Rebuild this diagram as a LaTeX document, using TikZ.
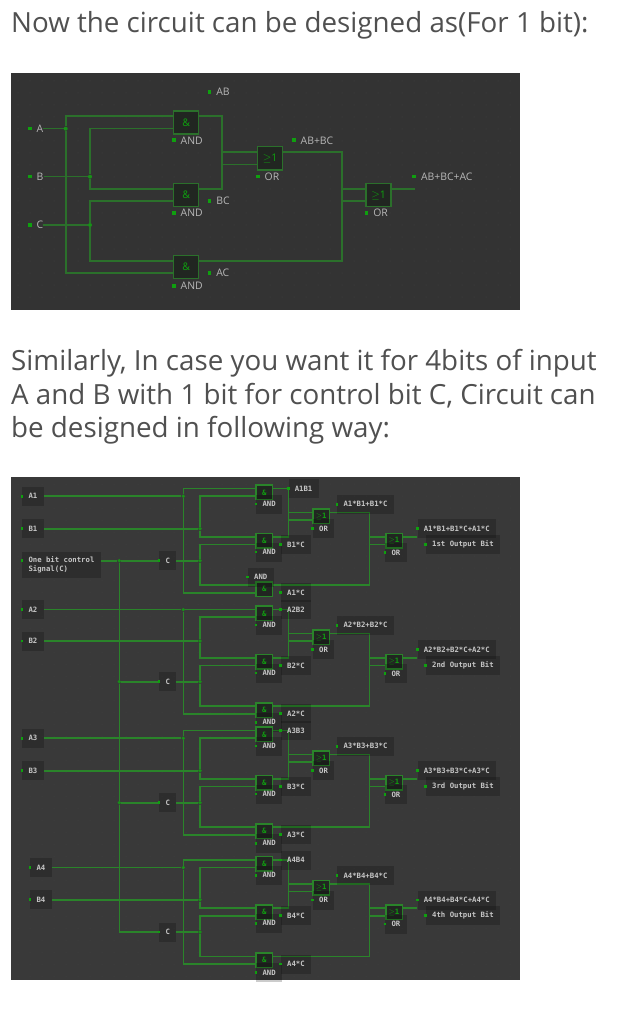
\documentclass[tikz,border=0pt]{standalone}
\usepackage{fontspec}
\setmainfont{Open Sans}
\setsansfont{Open Sans}
\setmonofont{DejaVu Sans Mono}
\usetikzlibrary{backgrounds}

\definecolor{headtext}{HTML}{505050}
\definecolor{paneltop}{HTML}{333333}
\definecolor{panelbit}{HTML}{393939}
\definecolor{griddot}{HTML}{424242}
\definecolor{wiretop}{HTML}{2B702B}
\definecolor{wirebit}{HTML}{2A842A}
\definecolor{gatefill}{HTML}{212621}
\definecolor{lit}{HTML}{0FA00F}

\tikzset{
	headline/.style={anchor=base west, inner sep=0pt, text=headtext, font=\fontsize{27.75}{30}\selectfont},
	wire/.style={draw=wiretop, line width=1.6pt},
	wirebitx/.style={draw=wirebit, line width=1.6pt},
	junc/.style={circle, fill=lit!70!wiretop, inner sep=0pt, minimum size=4pt},
	gatetop/.style={draw=wiretop, line width=1.5pt, fill=gatefill, inner sep=0pt, minimum width=25pt, minimum height=23.3pt, text=lit, font=\sffamily\fontsize{10.5}{12}\selectfont},
	gatebit/.style={draw=wirebit, line width=1.5pt, fill=gatefill, inner sep=0pt, minimum width=16.5pt, minimum height=14.5pt, text=lit, font=\ttfamily\bfseries\fontsize{7.3}{9}\selectfont},
	lbtop/.style={inner sep=0pt, xshift=6.8pt, text=black!28, font=\sffamily\fontsize{10.4}{12}\selectfont},
	lbtopdot/.style={fill=lit, inner sep=0pt, minimum size=3.6pt},
	lbbit/.style={fill=black, fill opacity=0.2, text opacity=1, inner xsep=6.3pt, inner ysep=0pt, minimum height=19pt, text=black!22, font=\ttfamily\bfseries\fontsize{7.3}{9.5}\selectfont},
	lbbitdot/.style={fill=lit, inner sep=0pt, minimum size=2.6pt}
}

\newcommand{\portlab}[5]{
	\node[#1, anchor=west] (#2) at (#3,#4) {#5};
	\node[#1dot] (#2d) at (#3,#4) {};
}

\begin{document}
\begin{tikzpicture}[x=1pt, y=-1pt]
	\useasboundingbox (0,0) rectangle (633,1024);
	\begin{pgfonlayer}{background}
		\fill [white] (0,0) rectangle (633,1024);
		\fill [paneltop] (11,73) rectangle (520,310);
		\fill [panelbit] (11,477) rectangle (520,980);
		\foreach \x in {18,30,...,514} {
			\foreach \y in {81,93,...,305}
				\fill [griddot] (\x,\y) circle (0.5pt);
			\foreach \y in {484,496,...,976}
				\fill [griddot] (\x,\y) circle (0.5pt);
		}
	\end{pgfonlayer}

	\node[headline] (head1) at (11,33) {Now the circuit can be designed as(For 1 bit):};
	\node[headline] (head2) at (11,370) {Similarly, In case you want it for 4bits of input};
	\node[headline] (head3) at (11,404) {A and B with 1 bit for control bit C, Circuit can};
	\node[headline] (head4) at (11,437) {be designed in following way:};

	% 1 bit circuit
	\portlab{lbtop}{A}{29.7}{128.7}{A}
	\portlab{lbtop}{B}{29.7}{176.7}{B}
	\portlab{lbtop}{C}{29.7}{225}{C}
	\node[gatetop] (and1) at (186.2,122.5) {\&};
	\node[gatetop] (and2) at (186.2,195) {\&};
	\node[gatetop] (and3) at (186.2,267) {\&};
	\node[gatetop] (or1) at (270.2,158.4) {$\geq$1};
	\node[gatetop] (or2) at (378.6,195) {$\geq$1};
	\portlab{lbtop}{lab}{209.3}{92}{AB}
	\portlab{lbtop}{lbc}{209.3}{201}{BC}
	\portlab{lbtop}{lac}{209.3}{273}{AC}
	\portlab{lbtop}{land1}{173.7}{140.3}{AND}
	\portlab{lbtop}{land2}{173.7}{213}{AND}
	\portlab{lbtop}{land3}{173.7}{285.7}{AND}
	\portlab{lbtop}{lor1}{257.7}{176.7}{OR}
	\portlab{lbtop}{lor2}{366.3}{213}{OR}
	\portlab{lbtop}{labbc}{293.7}{140.3}{AB+BC}
	\portlab{lbtop}{lsum}{414}{176.7}{AB+BC+AC}
	\node[junc] (ja) at (65.7,128.7) {};
	\node[junc] (jb) at (90,176.7) {};
	\node[junc] (jc) at (90,225) {};
	\coordinate (m1) at (222,135);
	\coordinate (m2) at (342,180);
	\coordinate (sumend) at (415,188.8);
	\begin{pgfonlayer}{background}
		\draw[wire] (A.east) -- (ja);
		\draw[wire] (B.east) -- (jb);
		\draw[wire] (C.east) -- (jc);
		\draw[wire] ([yshift=6.2pt]and1.west) -| (ja) |- ([yshift=-6.2pt]and3.west);
		\draw[wire] ([yshift=-6.2pt]and1.west) -| (jb) |- ([yshift=6.2pt]and2.west);
		\draw[wire] ([yshift=-6.2pt]and2.west) -| (jc) |- ([yshift=6.2pt]and3.west);
		\draw[wire] ([yshift=6.2pt]and1.east) -| (m1) |- ([yshift=6.2pt]or1.west);
		\draw[wire] ([yshift=6.2pt]and2.east) -| (m1) |- ([yshift=-6.2pt]or1.west);
		\draw[wire] ([yshift=6.2pt]or1.east) -| (m2) |- ([yshift=6.2pt]or2.west);
		\draw[wire] ([yshift=6.2pt]and3.east) -| (m2) |- ([yshift=-6.2pt]or2.west);
		\draw[wire] ([yshift=6.2pt]or2.east) -- (sumend);
	\end{pgfonlayer}

	% 4 bit circuit
	\node[lbbit, anchor=west, align=left, minimum height=26pt] (ctrl) at (22,564.9) {One bit control\\Signal(C)};
	\node[lbbitdot] (ctrld) at (22,560.7) {};
	\node[junc, minimum size=3.6pt] (jm1) at (119.3,560.7) {};
	\node[junc, minimum size=3.6pt] (jm2) at (119.3,681.7) {};
	\node[junc, minimum size=3.6pt] (jm3) at (119.3,802.7) {};
	\coordinate (jm4) at (119.3,932);
	\begin{pgfonlayer}{background}
		\draw[wirebitx] (ctrl.east |- jm1) -- (jm1) -- (jm2) -- (jm3) -- (jm4);
	\end{pgfonlayer}

	\foreach \n/\off/\xl/\ya/\yb/\xab/\xc/\yc/\th in {
		1/0/22/496.2/528.7/288.3/247.7/577/1st,
		2/121/22/609.6/641/280.7/256/722.3/2nd,
		3/242/22/738.2/770.7/280.7/256/843.3/3rd,
		4/371.3/30/867.5/899.7/280.7/256/972.6/4th} {
		\portlab{lbbit}{la\n}{\xl}{\ya}{A\n}
		\portlab{lbbit}{lb\n}{\xl}{\yb}{B\n}
		\portlab{lbbit}{lc\n}{159}{560.7+\off}{C}
		\node[gatebit] (a\n) at (264.3,492.4+\off) {\&};
		\node[gatebit] (b\n) at (264.3,540.7+\off) {\&};
		\node[gatebit] (c\n) at (264.3,589+\off) {\&};
		\node[gatebit] (p\n) at (321.3,516.4+\off) {$\geq$1};
		\node[gatebit] (q\n) at (394,540.7+\off) {$\geq$1};
		\portlab{lbbit}{ta\n}{256}{504+\off}{AND}
		\portlab{lbbit}{tb\n}{256}{552+\off}{AND}
		\portlab{lbbit}{tc\n}{\xc}{\yc}{AND}
		\portlab{lbbit}{tp\n}{312.7}{528.7+\off}{OR}
		\portlab{lbbit}{tq\n}{385}{552.7+\off}{OR}
		\portlab{lbbit}{ab\n}{\xab}{488.7+\off}{A\n B\n}
		\portlab{lbbit}{bc\n}{280.7}{544.4+\off}{B\n*C}
		\portlab{lbbit}{ac\n}{280.7}{592.7+\off}{A\n*C}
		\portlab{lbbit}{abc\n}{337}{504.3+\off}{A\n*B\n+B\n*C}
		\portlab{lbbit}{sum\n}{417.3}{528.7+\off}{A\n*B\n+B\n*C+A\n*C}
		\portlab{lbbit}{out\n}{425.7}{544.4+\off}{\th\ Output Bit}
		\node[junc, minimum size=3.6pt] (ja\n) at (183.3,\ya) {};
		\node[junc, minimum size=3.6pt] (jb\n) at (200,\yb) {};
		\node[junc, minimum size=3.6pt] (jc\n) at (200,560.7+\off) {};
		\coordinate (mp\n) at (288.3,505+\off);
		\coordinate (mq\n) at (369.3,530+\off);
		\coordinate (end\n) at (417.3,536.9+\off);
		\begin{pgfonlayer}{background}
			\draw[wirebitx] (la\n.east) -- (ja\n);
			\draw[wirebitx] (lb\n.east) -- (jb\n);
			\draw[wirebitx] (jm\n) -- (lc\n.west);
			\draw[wirebitx] (lc\n.east) -- (jc\n);
			\draw[wirebitx] ([yshift=3.8pt]a\n.west) -| (ja\n) |- ([yshift=-3.8pt]c\n.west);
			\draw[wirebitx] ([yshift=-3.8pt]a\n.west) -| (jb\n) |- ([yshift=3.8pt]b\n.west);
			\draw[wirebitx] ([yshift=-3.8pt]b\n.west) -| (jc\n) |- ([yshift=3.8pt]c\n.west);
			\draw[wirebitx] ([yshift=3.8pt]a\n.east) -| (mp\n) |- ([yshift=3.8pt]p\n.west);
			\draw[wirebitx] ([yshift=3.8pt]b\n.east) -| (mp\n) |- ([yshift=-3.8pt]p\n.west);
			\draw[wirebitx] ([yshift=3.8pt]p\n.east) -| (mq\n) |- ([yshift=3.8pt]q\n.west);
			\draw[wirebitx] ([yshift=3.8pt]c\n.east) -| (mq\n) |- ([yshift=-3.8pt]q\n.west);
			\draw[wirebitx] ([yshift=3.8pt]q\n.east) -- (end\n);
		\end{pgfonlayer}
	}
\end{tikzpicture}
\end{document}
